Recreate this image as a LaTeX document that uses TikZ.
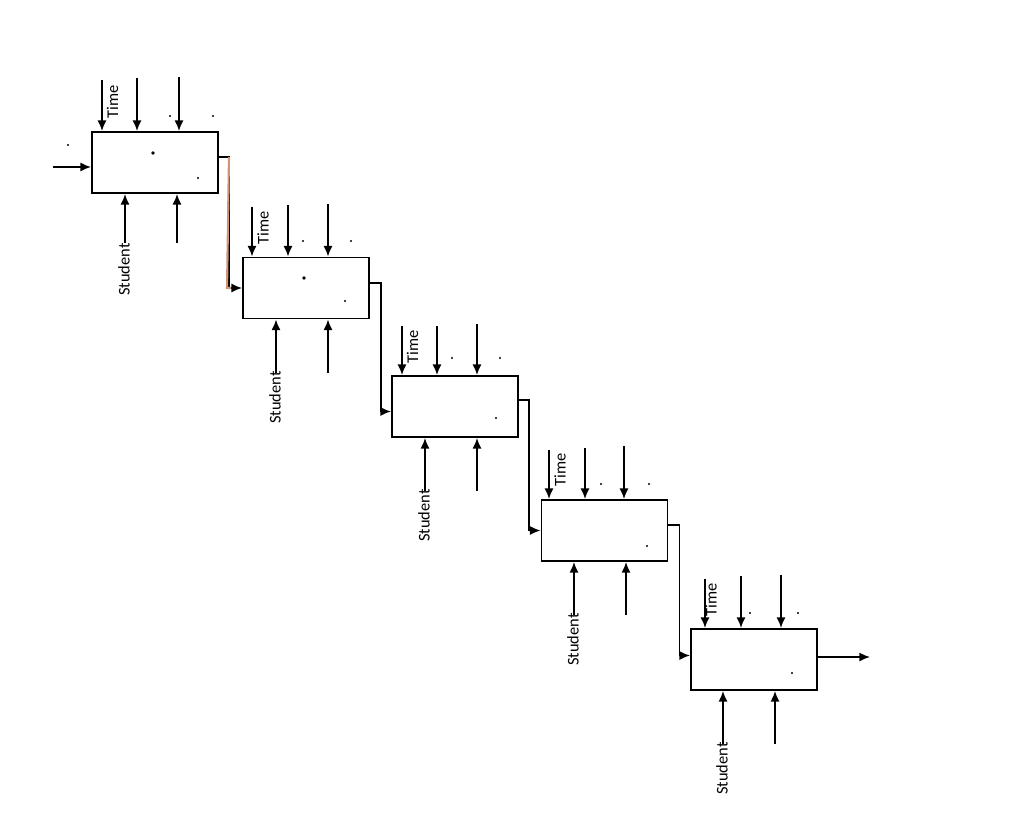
\documentclass[tikz,border=0pt]{standalone}
\usepackage{fontspec}
\setmainfont{Carlito}
\usetikzlibrary{arrows.meta,calc}
\definecolor{tanline}{RGB}{205,150,120}
\tikzset{
  box/.style={draw, line width=1.45pt, minimum width=94.5pt, minimum height=45.75pt, inner sep=0pt},
  arr/.style={line width=1.25pt, -{Latex[length=8pt,width=6.8pt]}},
  conn/.style={line width=1.2pt, -{Latex[length=8pt,width=6.8pt]}},
  lbl/.style={rotate=90, font=\fontsize{12.3}{14}\selectfont, inner sep=0pt},
  bigdot/.style={circle, fill, inner sep=0pt, minimum size=2.8pt},
  smalldot/.style={circle, fill, inner sep=0pt, minimum size=1.6pt}
}
\begin{document}
\begin{tikzpicture}[x=0.75pt,y=-0.75pt]
\useasboundingbox (0,0) rectangle (1024,819);
% boxes
\node[box] (b1) at (155,162.5) {};
\node[box] (b2) at (306,288) {};
\node[box] (b3) at (455,406.5) {};
\node[box] (b4) at (604.5,530.5) {};
\node[box] (b5) at (754,659.5) {};

% ---------- box 1
\coordinate (t11) at (102,80); \coordinate (t12) at (137,78); \coordinate (t13) at (179,77);
\draw[arr] (t11) -- (t11 |- b1.north);
\draw[arr] (t12) -- (t12 |- b1.north);
\draw[arr] (t13) -- (t13 |- b1.north);
\node[lbl] (time1) at (112.5,102) {Time};
\coordinate (s11) at (125,243); \coordinate (s12) at (177,243);
\draw[arr] (s11) -- (s11 |- b1.south);
\draw[arr] (s12) -- (s12 |- b1.south);
\node[lbl, anchor=east] (stu1) at (124,243) {Student};
\node[smalldot] (d11) at (170,116) {};
\node[smalldot] (d12) at (213,116) {};
\node[bigdot] (d13) at (153,153) {};
\node[smalldot] (d14) at (198,178) {};
\node[smalldot] (d15) at (68,145) {};
\coordinate (in0) at (53,167);
\draw[arr] (in0) -- (b1.west |- in0);

% ---------- box 2
\coordinate (t21) at (252,207); \coordinate (t22) at (288,205); \coordinate (t23) at (328,204);
\draw[arr] (t21) -- (t21 |- b2.north);
\draw[arr] (t22) -- (t22 |- b2.north);
\draw[arr] (t23) -- (t23 |- b2.north);
\node[lbl] (time2) at (263,228) {Time};
\coordinate (s21) at (276,373); \coordinate (s22) at (328,373);
\draw[arr] (s21) -- (s21 |- b2.south);
\draw[arr] (s22) -- (s22 |- b2.south);
\node[lbl, anchor=east] (stu2) at (275,371) {Student};
\node[smalldot] (d21) at (303,241) {};
\node[smalldot] (d22) at (351,241) {};
\node[bigdot] (d23) at (304,278) {};
\node[smalldot] (d24) at (345,301) {};

% ---------- box 3
\coordinate (t31) at (402,326); \coordinate (t32) at (437,326); \coordinate (t33) at (477,324);
\draw[arr] (t31) -- (t31 |- b3.north);
\draw[arr] (t32) -- (t32 |- b3.north);
\draw[arr] (t33) -- (t33 |- b3.north);
\node[lbl] (time3) at (412.5,347) {Time};
\coordinate (s31) at (425,491); \coordinate (s32) at (477,491);
\draw[arr] (s31) -- (s31 |- b3.south);
\draw[arr] (s32) -- (s32 |- b3.south);
\node[lbl, anchor=east] (stu3) at (424,489) {Student};
\node[smalldot] (d31) at (452,358) {};
\node[smalldot] (d32) at (500,358) {};
\node[smalldot] (d34) at (496,418) {};

% ---------- box 4
\coordinate (t41) at (549,450); \coordinate (t42) at (585,448); \coordinate (t43) at (624,446);
\draw[arr] (t41) -- (t41 |- b4.north);
\draw[arr] (t42) -- (t42 |- b4.north);
\draw[arr] (t43) -- (t43 |- b4.north);
\node[lbl] (time4) at (560,470) {Time};
\coordinate (s41) at (574,615); \coordinate (s42) at (626,615);
\draw[arr] (s41) -- (s41 |- b4.south);
\draw[arr] (s42) -- (s42 |- b4.south);
\node[lbl, anchor=east] (stu4) at (573,613) {Student};
\node[smalldot] (d41) at (601,484) {};
\node[smalldot] (d42) at (649,484) {};
\node[smalldot] (d44) at (647,546) {};

% ---------- box 5
\coordinate (t51) at (705,579); \coordinate (t52) at (741,576); \coordinate (t53) at (781,575);
\draw[arr] (t51) -- (t51 |- b5.north);
\draw[arr] (t52) -- (t52 |- b5.north);
\draw[arr] (t53) -- (t53 |- b5.north);
\node[lbl] (time5) at (711,600) {Time};
\coordinate (s51) at (723,744); \coordinate (s52) at (775,744);
\draw[arr] (s51) -- (s51 |- b5.south);
\draw[arr] (s52) -- (s52 |- b5.south);
\node[lbl, anchor=east] (stu5) at (722,742) {Student};
\node[smalldot] (d51) at (750,613) {};
\node[smalldot] (d52) at (798,613) {};
\node[smalldot] (d54) at (792,673) {};
\coordinate (out0) at (870,657);
\draw[arr] (b5.east |- out0) -- (out0);

% ---------- connectors
\draw[conn] ($(b1.east)+(0,-5.5)$) -- ++(10,0) |- (b2.west);
\draw[tanline, line width=1.6pt] ($(b1.east)+(10,-5.5)$) -- ($(b2.west)+(-15,0)$) -- ($(b2.west)+(-11,0)$);
\draw[conn] ($(b2.east)+(0,-5)$) -- ++(11,0) |- ($(b3.west)+(0,5)$);
\draw[conn] ($(b3.east)+(0,-6.5)$) -- ++(10,0) |- (b4.west);
\draw[conn] ($(b4.east)+(0,-5.5)$) -- ++(11,0) |- ($(b5.west)+(0,-4)$);
\end{tikzpicture}
\end{document}
